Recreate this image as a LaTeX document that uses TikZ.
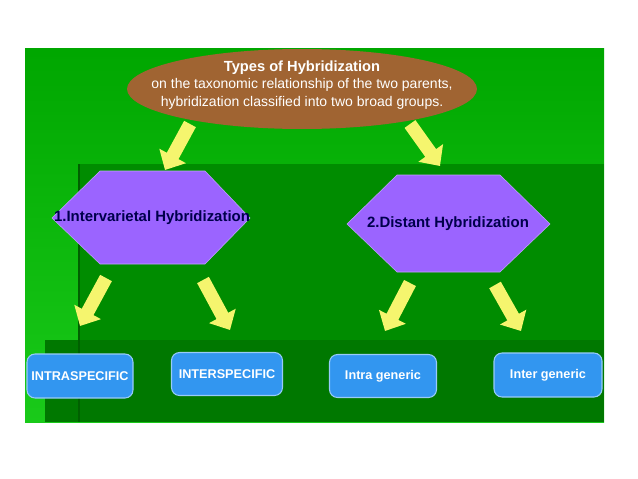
\documentclass[tikz,border=0pt]{standalone}
\usepackage{fontspec}
\setmainfont{Liberation Sans}
\usetikzlibrary{shapes.geometric,arrows.meta}
\definecolor{bg1}{RGB}{0,196,0}
\definecolor{bg2}{RGB}{0,140,0}
\definecolor{bg3}{RGB}{0,120,0}
\definecolor{brownE}{RGB}{160,100,50}
\definecolor{hexc}{RGB}{155,100,255}
\definecolor{boxc}{RGB}{50,150,240}
\definecolor{yel}{RGB}{245,245,110}
\begin{document}
\begin{tikzpicture}[x=0.75pt,y=-0.75pt,
  box/.style={rounded corners=6pt,fill=boxc,draw=boxc!50!white,line width=0.8pt,text=white,font=\bfseries\fontsize{9.5}{12}\selectfont},
  arr/.style={yel,line width=10pt,-{Triangle[width=22pt,length=12pt]}}]
\useasboundingbox (0,0) rectangle (638,478);
\fill[white] (0,0) rectangle (638,478);
\shade[top color=bg1!85!black,bottom color=bg1!90!white] (25,49) rectangle (604,422);
\fill[bg2] (78,164) rectangle (604,422);
\fill[bg3] (45,340) rectangle (604,422);
\fill[bg3!80!black] (78,164) rectangle (80,422);
\node[ellipse,fill=brownE,minimum width=350pt*0.75,minimum height=80pt*0.75,inner sep=0pt] (top) at (302,89) {};
\node[align=center,font=\fontsize{10.5}{13}\selectfont,text=white] (toptxt) at (302,85) {{\bfseries\fontsize{11}{13}\selectfont Types of Hybridization}\\on the taxonomic relationship of the two parents,\\hybridization classified into two broad groups.};
\path[fill=hexc,draw=hexc!60!white] (52,218) -- (100,171) -- (205,171) -- (250,218) -- (205,264) -- (100,264) -- cycle;
\node[font=\bfseries\fontsize{11.2}{13}\selectfont,text=blue!30!black] (h1) at (152,218) {1.Intervarietal Hybridization};
\path[fill=hexc,draw=hexc!60!white] (347,224) -- (397,175) -- (500,175) -- (550,224) -- (500,272) -- (397,272) -- cycle;
\node[font=\bfseries\fontsize{11.2}{13}\selectfont,text=blue!30!black] (h2) at (448,224) {2.Distant Hybridization};
\node[box,minimum width=106*0.75pt,minimum height=44*0.75pt] (b1) at (80,376) {INTRASPECIFIC};
\node[box,minimum width=111*0.75pt,minimum height=43*0.75pt] (b2) at (227,374) {INTERSPECIFIC};
\node[box,minimum width=107*0.75pt,minimum height=43*0.75pt] (b3) at (383,376) {Intra generic};
\node[box,minimum width=108*0.75pt,minimum height=44*0.75pt] (b4) at (548,375) {Inter generic};
\coordinate (a1s) at (190,124); \coordinate (a1e) at (165,170);
\coordinate (a2s) at (410,124); \coordinate (a2e) at (440,166);
\coordinate (a3s) at (106,278); \coordinate (a3e) at (80,326);
\coordinate (a4s) at (203,280); \coordinate (a4e) at (230,330);
\coordinate (a5s) at (410,283); \coordinate (a5e) at (385,331);
\coordinate (a6s) at (495,285); \coordinate (a6e) at (521,331);
\draw[arr] (a1s) -- (a1e);
\draw[arr] (a2s) -- (a2e);
\draw[arr] (a3s) -- (a3e);
\draw[arr] (a4s) -- (a4e);
\draw[arr] (a5s) -- (a5e);
\draw[arr] (a6s) -- (a6e);
\end{tikzpicture}
\end{document}
